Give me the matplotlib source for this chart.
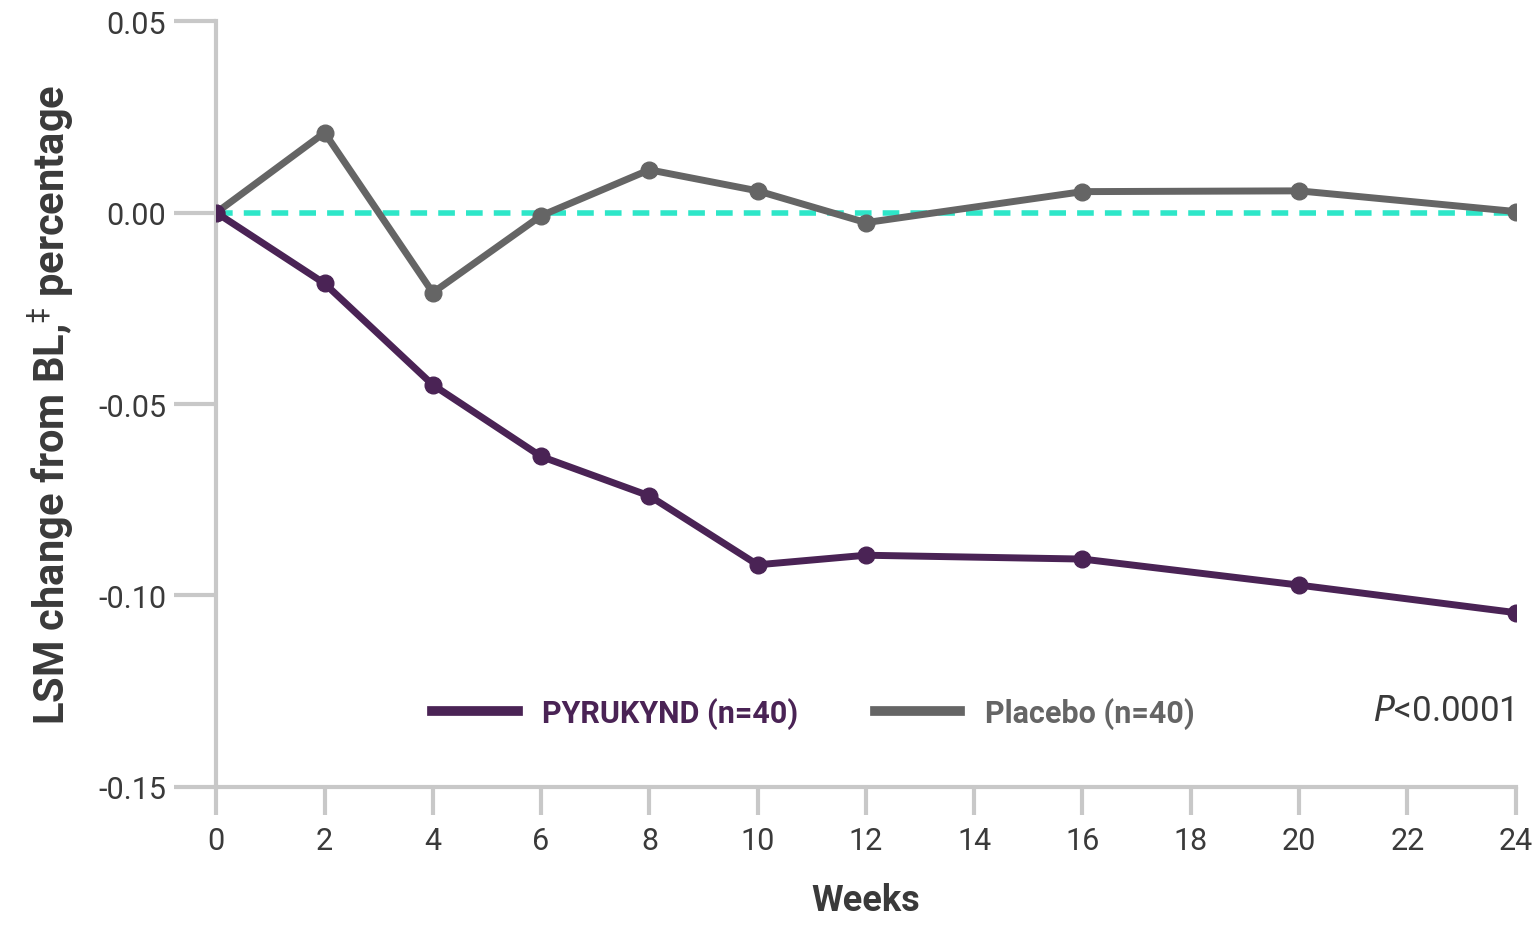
import matplotlib.pyplot as plt
from matplotlib.lines import Line2D

weeks = [0, 2, 4, 6, 8, 10, 12, 16, 20, 24]
pyrukynd = [0.0, -0.0185, -0.045, -0.0637, -0.074, -0.092, -0.0895, -0.0905, -0.0973, -0.1045]
placebo = [0.0, 0.0209, -0.0209, -0.0008, 0.0112, 0.0057, -0.0026, 0.0055, 0.0057, 0.0003]
yticks = [0.05, 0.0, -0.05, -0.10, -0.15]
ytick_labels = ["0.05", "0.00", "-0.05", "-0.10", "-0.15"]

plt.rcParams['font.family'] = ['Roboto', 'DejaVu Sans']
purple = "#4a2355"
gray = "#656565"
axis_gray = "#c8c8c8"
text_col = "#3a3a3a"

fig = plt.figure(figsize=(15.34, 9.29), dpi=100)
ax = fig.add_axes([0.141, 0.152, 0.847, 0.824])

ax.axhline(0, color="#2ee6c8", lw=4, ls=(0, (3, 2)), zorder=1)
ax.plot(weeks, placebo, color=gray, lw=5, marker="o", ms=12, zorder=2)
ax.plot(weeks, pyrukynd, color=purple, lw=5, marker="o", ms=12, zorder=3)

ax.set_xlim(0, 24)
ax.set_ylim(-0.15, 0.05)
ax.set_xticks(range(0, 25, 2))
ax.set_yticks(yticks)
ax.set_yticklabels(ytick_labels)
for s in ["top", "right"]:
    ax.spines[s].set_visible(False)
for s in ["left", "bottom"]:
    ax.spines[s].set_color(axis_gray)
    ax.spines[s].set_linewidth(3)
ax.tick_params(axis="both", colors=axis_gray, width=3, length=30, labelsize=22,
               labelcolor=text_col)
ax.tick_params(axis="x", length=20, pad=8)
ax.tick_params(axis="y", pad=6)
for lab in ax.get_xticklabels() + ax.get_yticklabels():
    lab.set_clip_on(False)

ax.set_xlabel("Weeks", fontsize=26, fontweight="bold", color=text_col, labelpad=20)
ax.set_ylabel("LSM change from BL,$^{\\ddag}$ percentage", fontsize=30, fontweight="bold",
              color=text_col, labelpad=16)

handles = [Line2D([], [], color=purple, lw=7), Line2D([], [], color=gray, lw=7)]
leg = ax.legend(handles, ["PYRUKYND (n=40)", "Placebo (n=40)"], loc="lower left",
                bbox_to_anchor=(0.145, 0.04), ncol=2, frameon=False,
                handlelength=2.8, columnspacing=2.5, handletextpad=0.8,
                prop={"weight": "bold", "size": 22})
leg.get_texts()[0].set_color(purple)
leg.get_texts()[1].set_color(gray)

ax.text(0.998, 0.1, "$\\it{P}$<0.0001", transform=ax.transAxes, ha="right", va="center",
        fontsize=25, color=text_col)

fig.savefig("out.png", dpi=100)
